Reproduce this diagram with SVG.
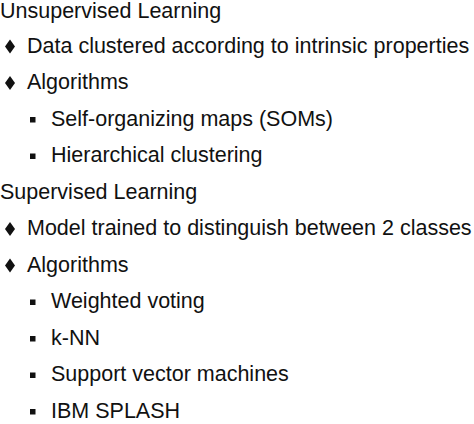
<svg xmlns="http://www.w3.org/2000/svg" width="474" height="424" viewBox="0 0 474 424">
<style>
text{font-family:"Liberation Sans",Arial,sans-serif;font-size:21.5px;fill:#111}
.d{fill:#111}
</style>
<defs>
<polygon id="dia" points="0,-7 5,0 0,7 -5,0"/>
<rect id="sq" x="0" y="0" width="5.5" height="5.5"/>
</defs>
<rect width="474" height="424" fill="#fff"/>
<g id="unsup">
<text x="0" y="18">Unsupervised Learning</text>
<use href="#dia" x="10" y="46.5" class="d"/>
<text x="27" y="52.5">Data clustered according to intrinsic properties</text>
<use href="#dia" x="10" y="83" class="d"/>
<text x="27" y="89">Algorithms</text>
<use href="#sq" x="30" y="117" class="d"/>
<text x="51" y="125.5">Self-organizing maps (SOMs)</text>
<use href="#sq" x="30" y="153.5" class="d"/>
<text x="51" y="162">Hierarchical clustering</text>
</g>
<g id="sup">
<text x="0" y="198.5">Supervised Learning</text>
<use href="#dia" x="10" y="229" class="d"/>
<text x="27" y="235">Model trained to distinguish between 2 classes</text>
<use href="#dia" x="10" y="265.5" class="d"/>
<text x="27" y="271.5">Algorithms</text>
<use href="#sq" x="30" y="299.5" class="d"/>
<text x="51" y="308">Weighted voting</text>
<use href="#sq" x="30" y="336" class="d"/>
<text x="51" y="344.5">k-NN</text>
<use href="#sq" x="30" y="372.5" class="d"/>
<text x="51" y="381">Support vector machines</text>
<use href="#sq" x="30" y="409" class="d"/>
<text x="51" y="417.5">IBM SPLASH</text>
</g>
</svg>
